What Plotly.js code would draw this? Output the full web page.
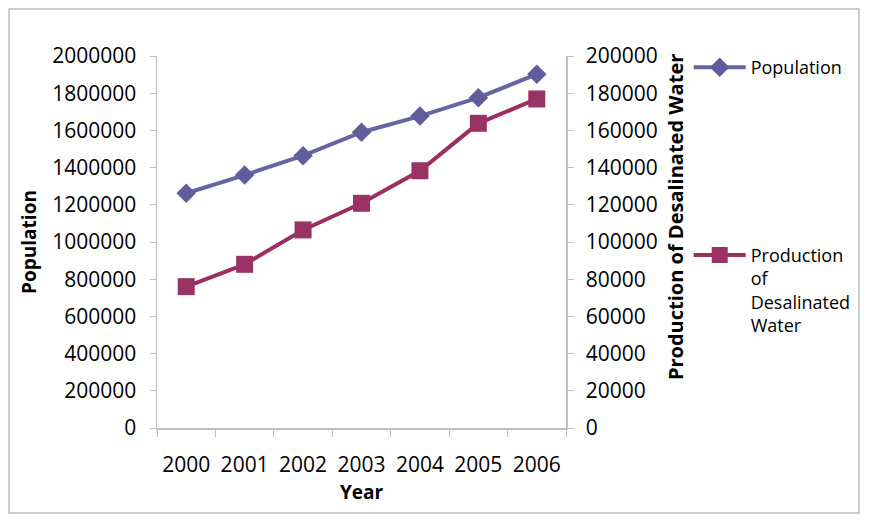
<!DOCTYPE html>
<html>
<head>
<meta charset="utf-8">
<script src="https://cdn.plot.ly/plotly-3.0.1.min.js"></script>
<style>
  html, body { margin: 0; padding: 0; background: #ffffff; }
  #chart { width: 869px; height: 523px; }
</style>
</head>
<body>
<div id="chart"></div>
<script>
// Years on the category axis
const years = ['2000', '2001', '2002', '2003', '2004', '2005', '2006'];
// Population (left axis)
const population = [1262000, 1360000, 1464000, 1590000, 1677000, 1776000, 1902000];
// Production of desalinated water (right axis)
const desalinated = [76000, 88000, 106500, 120800, 138300, 163800, 176900];

// Axis tick values
const popTicks = [0, 200000, 400000, 600000, 800000, 1000000, 1200000, 1400000, 1600000, 1800000, 2000000];
const waterTicks = [0, 20000, 40000, 60000, 80000, 100000, 120000, 140000, 160000, 180000, 200000];

const font = '"Open Sans", "Noto Sans", sans-serif';

const traces = [
  {
    type: 'scatter', mode: 'lines+markers', name: 'Population',
    x: years, y: population, yaxis: 'y', legend: 'legend',
    line: { color: '#6664A3', width: 4 },
    marker: { symbol: 'diamond', size: 15, color: '#5F5D9B' }
  },
  {
    type: 'scatter', mode: 'lines+markers', name: 'Production<br>of<br>Desalinated<br>Water',
    x: years, y: desalinated, yaxis: 'y2', legend: 'legend2',
    line: { color: '#9C2F62', width: 4 },
    marker: { symbol: 'square', size: 17, color: '#993366' }
  }
];

const axisColor = '#BFBFBF';

const layout = {
  width: 869, height: 523,
  margin: { l: 157, r: 303, t: 56, b: 95 },
  paper_bgcolor: '#ffffff', plot_bgcolor: '#ffffff',
  font: { family: font, color: '#000000', size: 21 },
  xaxis: {
    type: 'category', range: [-0.5, 6.5],
    showgrid: false, zeroline: false,
    showline: true, linecolor: axisColor, linewidth: 1.5,
    ticks: 'outside', tickson: 'boundaries', ticklen: 7, tickcolor: axisColor, tickwidth: 1,
    tickfont: { size: 21 }, ticklabelstandoff: 17,
    title: { text: '<b>Year</b>', font: { size: 19 }, standoff: 9 }
  },
  yaxis: {
    range: [0, 2000000], tickvals: popTicks, ticktext: popTicks.map(String),
    showgrid: false, zeroline: false,
    showline: true, linecolor: axisColor, linewidth: 1.5,
    ticks: 'outside', ticklen: 6, tickcolor: axisColor, tickwidth: 1,
    tickfont: { size: 21 }, ticklabelstandoff: 9,
    title: { text: '<b>Population</b>', font: { size: 19 }, standoff: 10 }
  },
  yaxis2: {
    overlaying: 'y', side: 'right',
    range: [0, 200000], tickvals: waterTicks, ticktext: waterTicks.map(String),
    showgrid: false, zeroline: false,
    showline: true, linecolor: axisColor, linewidth: 1.5,
    ticks: 'outside', ticklen: 6, tickcolor: axisColor, tickwidth: 1,
    tickfont: { size: 21 }, ticklabelstandoff: 8
  },
  annotations: [
    // right axis title, set slightly above the plot's vertical centre
    { text: '<b>Production of Desalinated Water</b>', xref: 'paper', yref: 'paper',
      x: 1.2665, y: 0.567, xanchor: 'center', yanchor: 'middle', textangle: -90,
      showarrow: false, font: { size: 20, family: font, color: '#000000' } }
  ],
  legend: {
    x: 1.3, xanchor: 'left', y: 1.019, yanchor: 'top',
    font: { size: 18, family: font }, itemwidth: 52, valign: 'top',
    bgcolor: 'rgba(0,0,0,0)'
  },
  legend2: {
    x: 1.3, xanchor: 'left', y: 0.514, yanchor: 'top',
    font: { size: 18, family: font }, itemwidth: 52, valign: 'top',
    bgcolor: 'rgba(0,0,0,0)'
  },
  shapes: [
    // outer chart frame
    { type: 'rect', xref: 'paper', yref: 'paper',
      x0: -0.3619, x1: 1.7164, y0: -0.2285, y1: 1.1263,
      line: { color: '#BDBDBD', width: 1.5 }, fillcolor: 'rgba(0,0,0,0)', layer: 'below' }
  ],
  showlegend: true
};

Plotly.newPlot('chart', traces, layout, { staticPlot: true, displayModeBar: false });
</script>
</body>
</html>
